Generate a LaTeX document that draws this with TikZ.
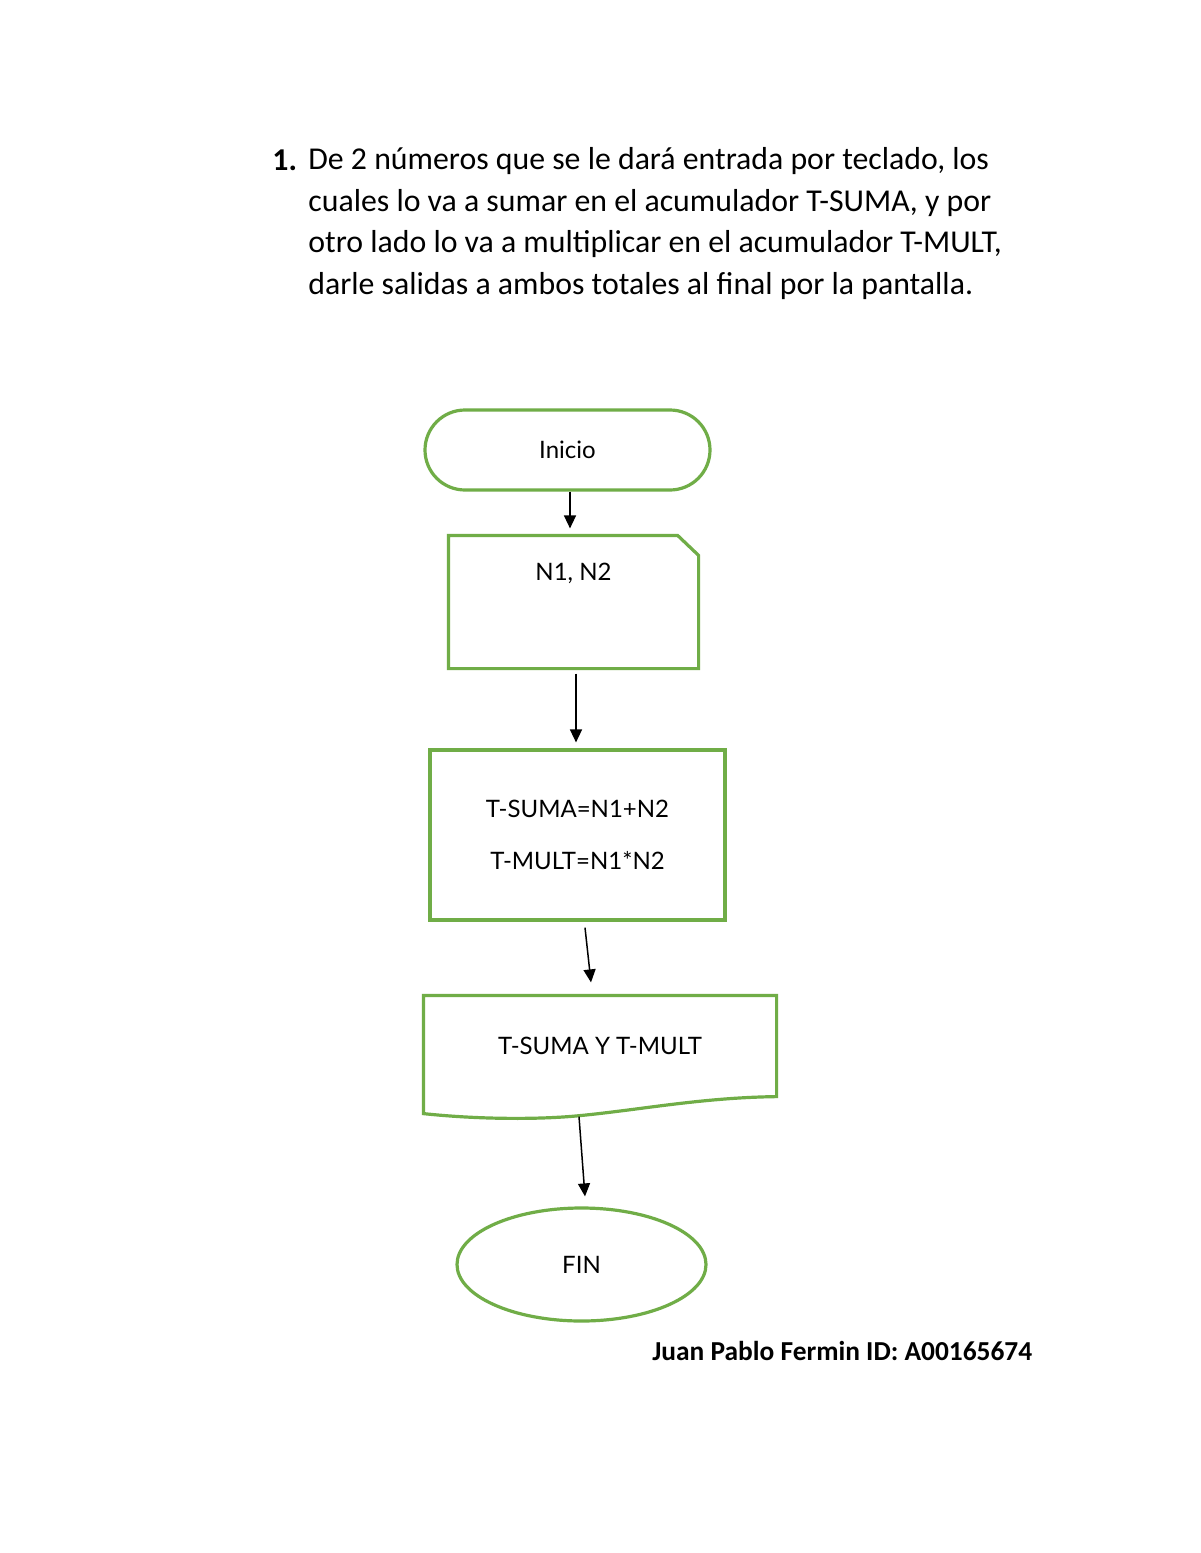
\documentclass[tikz,border=0pt]{standalone}
\usepackage{fontspec}
\setmainfont{Carlito}
\newfontfamily\shapefont{Lato}
\usetikzlibrary{arrows.meta,shapes.geometric}
\definecolor{boxgreen}{RGB}{112,173,71}

\begin{document}
\begin{tikzpicture}[
  x=0.5pt,y=-0.5pt,
  every node/.style={align=center},
  outline/.style={draw=boxgreen,line width=1.6pt},
  block/.style={outline,inner sep=0pt,font=\shapefont\fontsize{12}{14}\selectfont},
  terminal/.style={block,rounded corners=20pt,minimum width=142.5pt,minimum height=40pt},
  card/.style={block,draw=none,minimum width=123.5pt,minimum height=65pt},
  process/.style={block,rectangle,minimum width=147.5pt,minimum height=85pt},
  docbox/.style={block,draw=none,minimum width=175pt,minimum height=49pt},
  stop/.style={block,ellipse,minimum width=124.5pt,minimum height=56.5pt},
  flow/.style={-{Triangle[length=6.5pt,width=6pt]},line width=0.75pt}]

  \fill[white] (0,0) rectangle (1200,1553);
  \useasboundingbox (0,0) rectangle (1200,1553);

  % Task statement
  \node[anchor=base west,inner sep=0pt,font=\bfseries\fontsize{15.9}{20.7}\selectfont] (num) at (272,170) {1.};
  \node[anchor=base west,align=left,inner sep=0pt,font=\fontsize{15.9}{20.7}\selectfont] (task) at (308,294)
    {De 2 números que se le dará entrada por teclado, los\\cuales lo va a sumar en el acumulador T-SUMA, y por\\otro lado lo va a multiplicar en el acumulador T-MULT,\\darle salidas a ambos totales al final por la pantalla.};

  % Flowchart
  \node[terminal] (ini) at (567.5,450) {\raisebox{-1pt}{Inicio}};
  \node[card,label={[anchor=center,yshift=-19pt,font=\shapefont\fontsize{12}{14}\selectfont]north:{N1, N2}}] (read) at (573.5,602) {};
  \node[process] (calc) at (577.5,835) {T-SUMA=N1+N2\\[12pt]T-MULT=N1*N2};
  \node[docbox] (out) at (600,1046) {T-SUMA Y T-MULT};
  \node[stop] (fin) at (581.5,1264.5) {\raisebox{-1pt}{FIN}};

  % Card outline with cut corner
  \draw[outline] (read.north west) -- ([xshift=-10.5pt]read.north east) -- ([yshift=-10pt]read.north east)
    -- (read.south east) -- (read.south west) -- cycle;

  % Document outline with wavy bottom
  \draw[outline] (out.south east)
    .. controls ([xshift=-37.5pt,yshift=-0.5pt]out.south east) and ([xshift=-67.5pt,yshift=-6.5pt]out.south east)
    .. ([xshift=-10pt,yshift=-9.5pt]out.south)
    .. controls ([xshift=-30pt,yshift=-11.5pt]out.south) and ([xshift=-60pt,yshift=-11.5pt]out.south)
    .. ([yshift=-8.5pt]out.south west) -- (out.north west) -- (out.north east) -- cycle;

  % Connectors
  \draw[flow] ([xshift=1.25pt]ini.south) -- ([xshift=-1.75pt,yshift=3.5pt]read.north);
  \draw[flow] ([xshift=1.25pt,yshift=-2.5pt]read.south) -- ([xshift=-0.75pt,yshift=3pt]calc.north);
  \draw[flow] ([xshift=3.75pt,yshift=-3pt]calc.south) -- ([xshift=-4.5pt,yshift=6.5pt]out.north);
  \draw[flow] ([xshift=-10.5pt,yshift=-10pt]out.south) -- ([xshift=1.75pt,yshift=5pt]fin.north);

  % Author
  \node[anchor=base west,inner sep=0pt,font=\bfseries\fontsize{13.7}{16}\selectfont] (author) at (652,1360) {Juan Pablo Fermin ID: A00165674};
\end{tikzpicture}
\end{document}
